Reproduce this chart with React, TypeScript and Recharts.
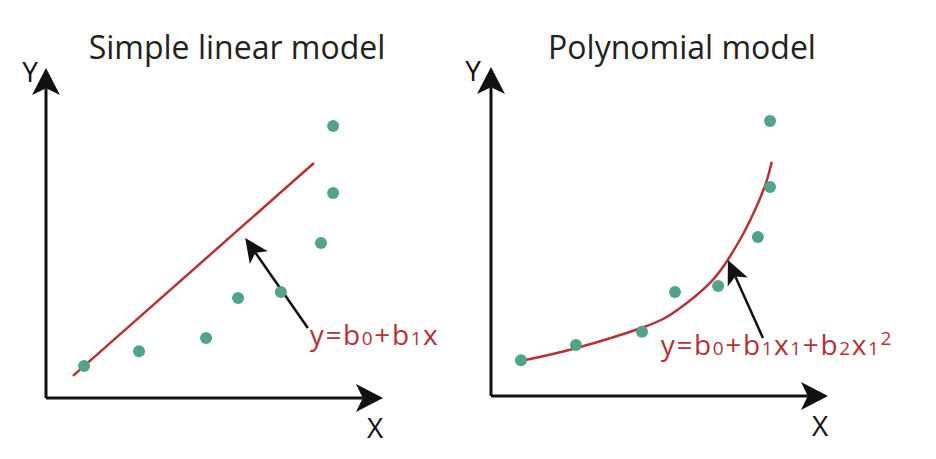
import React from 'react';
import {
  ComposedChart,
  Scatter,
  Line,
  XAxis,
  YAxis,
  ReferenceLine,
  ReferenceDot,
} from 'recharts';

// ---------- data (abstract units, 0..10 on both axes) ----------
const linearPoints = [
  { x: 1.13, y: 0.97 },
  { x: 2.76, y: 1.42 },
  { x: 4.75, y: 1.82 },
  { x: 5.7, y: 3.03 },
  { x: 6.97, y: 3.21 },
  { x: 8.16, y: 4.7 },
  { x: 8.52, y: 6.21 },
  { x: 8.52, y: 8.24 },
];
const linearFit = [
  { x: 0.8, y: 0.67 },
  { x: 7.95, y: 7.12 },
];
const linearPointer = { from: { x: 7.77, y: 2.12 }, to: { x: 5.91, y: 4.85 } };
const linearLabelAt = { x: 7.83, y: 1.6 };

const polyPoints = [
  { x: 0.89, y: 1.09 },
  { x: 2.52, y: 1.55 },
  { x: 4.48, y: 1.95 },
  { x: 5.46, y: 3.16 },
  { x: 6.74, y: 3.34 },
  { x: 7.92, y: 4.83 },
  { x: 8.28, y: 6.35 },
  { x: 8.28, y: 8.36 },
];
const polyFit = [
  { x: 0.91, y: 1.07 },
  { x: 2.54, y: 1.46 },
  { x: 4.52, y: 2.09 },
  { x: 5.51, y: 2.6 },
  { x: 6.5, y: 3.44 },
  { x: 7.09, y: 4.24 },
  { x: 7.49, y: 4.94 },
  { x: 7.88, y: 5.76 },
  { x: 8.18, y: 6.54 },
  { x: 8.33, y: 7.12 },
];
const polyPointer = { from: { x: 8.07, y: 1.76 }, to: { x: 7.03, y: 4.13 } };
const polyLabelAt = { x: 5.04, y: 1.25 };

const AXIS_MAX = 10;

const GREEN = '#4fa586';
const RED = '#b0343a';
const INK = '#111';
const FONT = '"Open Sans", "Noto Sans", sans-serif';

// line with an arrow head at (x2, y2)
function arrowShape(width: number, headLen: number, headHalf: number, color: string) {
  return (props: any) => {
    const { x1, y1, x2, y2 } = props;
    const dx = x2 - x1;
    const dy = y2 - y1;
    const len = Math.sqrt(dx * dx + dy * dy) || 1;
    const ux = dx / len;
    const uy = dy / len;
    const px = -uy;
    const py = ux;
    const bx = x2 - ux * headLen;
    const by = y2 - uy * headLen;
    const nx = x2 - ux * headLen * 0.75;
    const ny = y2 - uy * headLen * 0.75;
    const head = [
      `${x2},${y2}`,
      `${bx + px * headHalf},${by + py * headHalf}`,
      `${nx},${ny}`,
      `${bx - px * headHalf},${by - py * headHalf}`,
    ].join(' ');
    return (
      <g>
        <line x1={x1} y1={y1} x2={nx} y2={ny} stroke={color} strokeWidth={width} />
        <polygon points={head} fill={color} />
      </g>
    );
  };
}

const axisArrow = arrowShape(3, 27, 14, INK);
const pointerArrow = arrowShape(2.5, 24, 11, INK);

function formula(parts: { t: string; sub?: boolean; sup?: boolean }[]) {
  return (props: any) => {
    const { cx, cy } = props;
    return (
      <text x={cx} y={cy} fill={RED} fontFamily={FONT} fontSize={28} letterSpacing={1.6}>
        {parts.map((p, i) =>
          p.sub ? (
            <tspan key={i} fontSize={19}>{p.t}</tspan>
          ) : p.sup ? (
            <tspan key={i} fontSize={19} dy={-10}>{p.t}</tspan>
          ) : (
            <tspan key={i}>{p.t}</tspan>
          )
        )}
      </text>
    );
  };
}

const linearFormula = formula([
  { t: 'y=b' },
  { t: '0', sub: true },
  { t: '+b' },
  { t: '1', sub: true },
  { t: 'x' },
]);

const polyFormula = formula([
  { t: 'y=b' },
  { t: '0', sub: true },
  { t: '+b' },
  { t: '1', sub: true },
  { t: 'x' },
  { t: '1', sub: true },
  { t: '+b' },
  { t: '2', sub: true },
  { t: 'x' },
  { t: '1', sub: true },
  { t: '2', sup: true },
]);

const axisLetter = (letter: string, dx: number, dy: number) => (props: any) => {
  const { cx, cy } = props;
  return (
    <text x={cx + dx} y={cy + dy} fill={INK} fontFamily={FONT} fontSize={28} textAnchor="middle">
      {letter}
    </text>
  );
};

function Panel({
  width,
  margin,
  title,
  titleX,
  points,
  fit,
  curved,
  pointer,
  labelAt,
  label,
  yLetterDx,
}: any) {
  return (
    <div style={{ position: 'relative', width, height: 459 }}>
      <div
        style={{
          position: 'absolute',
          left: titleX - 200,
          width: 400,
          top: 27,
          textAlign: 'center',
          fontFamily: FONT,
          fontSize: 32,
          lineHeight: '40px',
          color: '#222',
        }}
      >
        {title}
      </div>
      <ComposedChart width={width} height={459} margin={margin}>
        <XAxis type="number" dataKey="x" domain={[0, AXIS_MAX]} hide allowDataOverflow />
        <YAxis type="number" dataKey="y" domain={[0, AXIS_MAX]} hide allowDataOverflow />
        <ReferenceLine
          segment={[{ x: 0, y: 0 }, { x: 0, y: AXIS_MAX }]}
          shape={axisArrow}
          ifOverflow="visible"
        />
        <ReferenceLine
          segment={[{ x: 0, y: 0 }, { x: AXIS_MAX, y: 0 }]}
          shape={axisArrow}
          ifOverflow="visible"
        />
        <ReferenceDot x={0} y={AXIS_MAX} shape={axisLetter('Y', yLetterDx, 14)} ifOverflow="visible" />
        <ReferenceDot x={AXIS_MAX} y={0} shape={axisLetter('X', -8, 40)} ifOverflow="visible" />
        <Line
          data={fit}
          dataKey="y"
          type={curved ? 'natural' : 'linear'}
          stroke={RED}
          strokeWidth={2.5}
          dot={false}
          activeDot={false}
          isAnimationActive={false}
        />
        <Scatter data={points} dataKey="y" fill={GREEN} shape={(p: any) => <circle cx={p.cx} cy={p.cy} r={6} fill={GREEN} />} isAnimationActive={false} />
        <ReferenceLine segment={[pointer.from, pointer.to]} shape={pointerArrow} ifOverflow="visible" />
        <ReferenceDot x={labelAt.x} y={labelAt.y} shape={label} ifOverflow="visible" />
      </ComposedChart>
    </div>
  );
}

export default function App() {
  return (
    <div style={{ position: 'absolute', left: 0, top: 0, width: 936, height: 459, background: '#fff', display: 'flex' }}>
      <Panel
        width={450}
        margin={{ top: 68, right: 67, bottom: 61, left: 46 }}
        title="Simple linear model"
        titleX={237}
        points={linearPoints}
        fit={linearFit}
        curved={false}
        pointer={linearPointer}
        labelAt={linearLabelAt}
        label={linearFormula}
        yLetterDx={-16}
      />
      <Panel
        width={486}
        margin={{ top: 67, right: 108, bottom: 63, left: 41 }}
        title="Polynomial model"
        titleX={232}
        points={polyPoints}
        fit={polyFit}
        curved
        pointer={polyPointer}
        labelAt={polyLabelAt}
        label={polyFormula}
        yLetterDx={-18}
      />
    </div>
  );
}
